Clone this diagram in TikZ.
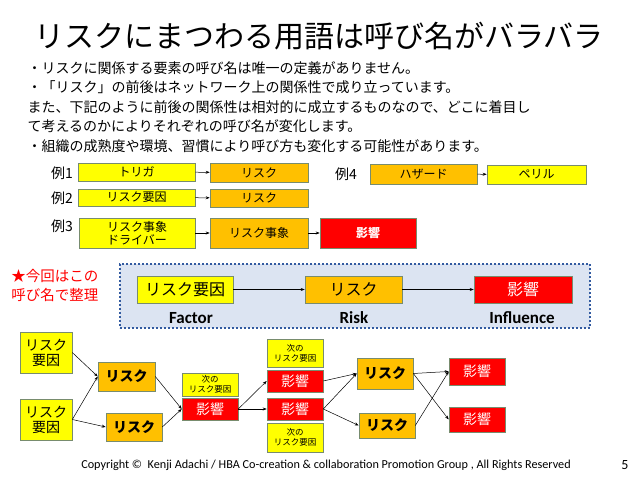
\documentclass[tikz,border=0pt]{standalone}
\usepackage{fontspec}
\setmainfont{Noto Sans CJK JP}
\newfontfamily\latf{Carlito}
\usetikzlibrary{arrows.meta}
\definecolor{yel}{RGB}{255,255,0}
\definecolor{ora}{RGB}{255,192,0}
\definecolor{rd}{RGB}{255,0,0}
\definecolor{edg}{RGB}{120,140,110}
\begin{document}
\begin{tikzpicture}[x=1pt,y=-1pt,
 bx/.style={draw=edg,line width=0.6pt,inner sep=0pt,align=center,font=\fontsize{12}{12.5}\selectfont},
 Y/.style={bx,fill=yel},O/.style={bx,fill=ora},R/.style={bx,fill=rd,text=white,font=\bfseries\fontsize{12}{13}\selectfont},
 big/.style={font=\fontsize{14}{15}\selectfont},
 huge/.style={font=\fontsize{16}{17}\selectfont},
 bigb/.style={font=\bfseries\fontsize{14}{15}\selectfont},
 sm/.style={font=\fontsize{8.5}{10}\selectfont},
 ar/.style={-{Stealth[length=4pt,width=3pt]},line width=0.5pt}]
\useasboundingbox (0,0) rectangle (638,478);
\newcommand\bxat[5]{\node[#1,minimum width=#4-#2,minimum height=#5-#3] at ({(#2+#4)/2},{(#3+#5)/2})}
\node[font=\fontsize{30}{32}\selectfont] (title) at (319,36) {リスクにまつわる用語は呼び名がバラバラ};
\node[anchor=west,align=left,font=\fontsize{14}{19.6}\selectfont] (txt) at (24,107) {・リスクに関係する要素の呼び名は唯一の定義がありません。\\・「リスク」の前後はネットワーク上の関係性で成り立っています。\\また、下記のように前後の関係性は相対的に成立するものなので、どこに着目し\\て考えるのかによりそれぞれの呼び名が変化します。\\・組織の成熟度や環境、習慣により呼び方も変化する可能性があります。};
\node[font=\fontsize{14}{15}\selectfont] (l1) at (62,173) {例1};
\node[font=\fontsize{14}{15}\selectfont] (l2) at (62,198) {例2};
\node[font=\fontsize{14}{15}\selectfont] (l3) at (62,226) {例3};
\node[font=\fontsize{14}{15}\selectfont] (l4) at (346,174) {例4};
\bxat{Y}{78}{163}{195}{181} (a1) {トリガ};
\bxat{O}{210}{163}{308}{182} (a2) {リスク};
\bxat{O}{370}{164}{477}{184} (d1) {ハザード};
\bxat{Y}{487}{165}{586}{184} (d2) {ペリル};
\bxat{Y}{78}{189}{195}{206} (b1) {リスク要因};
\bxat{O}{210}{189}{308}{207} (b2) {リスク};
\bxat{Y,font=\fontsize{12}{13}\selectfont}{79}{218}{195}{248} (c1) {リスク事象\\ドライバー};
\bxat{O}{210}{218}{308}{248} (c2) {リスク事象};
\bxat{R}{320}{218}{416}{248} (c3) {影響};
\foreach \p/\q in {a1/a2,d1/d2,b1/b2,c1/c2,c2/c3} \draw[ar] (\p) -- (\q);
\node[text=rd,align=center,font=\fontsize{14.5}{19}\selectfont] (star) at (55,285) {★今回はこの\\呼び名で整理};
\node[draw={rgb,255:red,50;green,90;blue,160},dotted,line width=2pt,fill={rgb,255:red,220;green,228;blue,242},minimum width=470,minimum height=64,inner sep=0pt] (frame) at (355,296) {};
\bxat{Y,huge}{137}{276}{233}{303} (f1) {リスク要因};
\bxat{O,huge}{305}{276}{402}{303} (f2) {リスク};
\bxat{R,huge}{474}{276}{572}{303} (f3) {影響};
\draw[ar] (f1) -- (f2); \draw[ar] (f2) -- (f3);
\node[font=\latf\bfseries\fontsize{17}{18}\selectfont] (e1) at (191,318) {Factor};
\node[font=\latf\bfseries\fontsize{17}{18}\selectfont] (e2) at (354,318) {Risk};
\node[font=\latf\bfseries\fontsize{17}{18}\selectfont] (e3) at (522,318) {Influence};
\bxat{Y,big}{20}{332}{72}{373} (rf1) {リスク\\要因};
\bxat{Y,big}{20}{399}{72}{440} (rf2) {リスク\\要因};
\bxat{O,bigb}{98}{362}{155}{391} (r1) {リスク};
\bxat{O,bigb}{106}{413}{162}{441} (r2) {リスク};
\bxat{Y,sm}{182}{373}{238}{396} (n1) {次の\\リスク要因};
\bxat{R,big}{182}{398}{238}{420} (i1) {影響};
\bxat{Y,sm}{267}{339}{323}{367} (n2) {次の\\リスク要因};
\bxat{R,big}{267}{370}{323}{392} (i2) {影響};
\bxat{R,big}{267}{398}{323}{420} (i3) {影響};
\bxat{Y,sm}{267}{423}{323}{452} (n3) {次の\\リスク要因};
\bxat{O,bigb}{357}{358}{413}{389} (r3) {リスク};
\bxat{O,bigb}{359}{413}{415}{438} (r4) {リスク};
\bxat{R,big}{449}{358}{505}{385} (i4) {影響};
\bxat{R,big}{449}{407}{505}{432} (i5) {影響};
\draw[ar] (rf1.east) -- (r1.west);
\draw[ar] (rf2.east) -- (r1.west);
\draw[ar] (rf2.east) -- (r2.west);
\draw[ar] (r1.east) -- (i1.west);
\draw[ar] (r2.east) -- (i1.west);
\draw[ar] (i1.east) -- (i2.west);
\draw[ar] (i1.east) -- (i3.west);
\draw[ar] (i2.east) -- (r3.west);
\draw[ar] (i3.east) -- (r3.west);
\draw[ar] (i3.east) -- (r4.west);
\draw[ar] (r3.east) -- (i4.west);
\draw[ar] (r3.east) -- (i5.west);
\draw[ar] (r4.east) -- (i4.west);
\node[font=\latf\fontsize{12.2}{13}\selectfont] (copy) at (326,465) {Copyright ©\ \ Kenji Adachi / HBA Co-creation \& collaboration Promotion Group , All Rights Reserved};
\node[font=\latf\fontsize{14}{15}\selectfont] (pg) at (625,465) {5};
\end{tikzpicture}
\end{document}
